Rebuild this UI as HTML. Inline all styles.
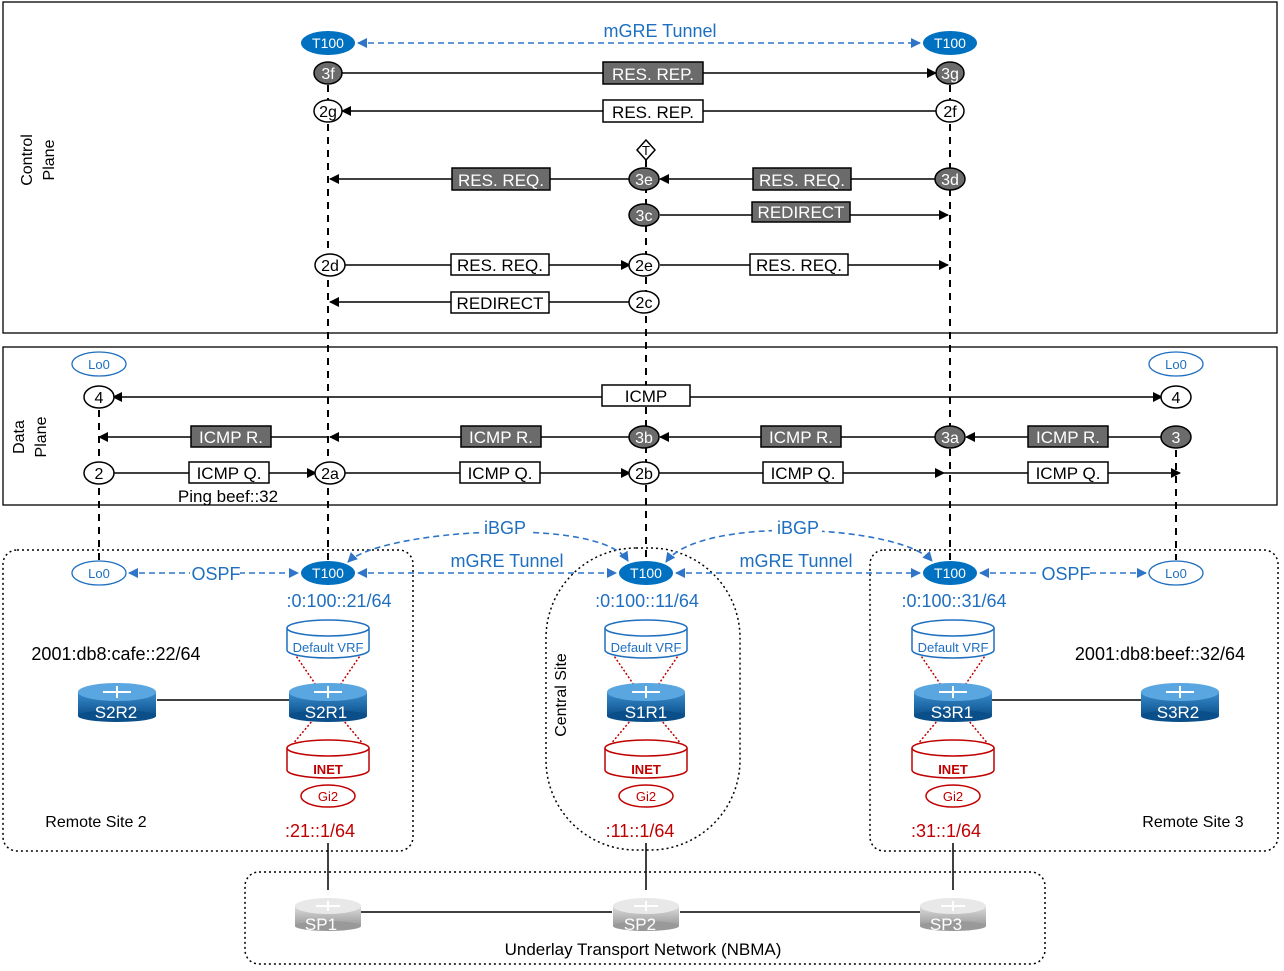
<!DOCTYPE html>
<html><head><meta charset="utf-8"><style>body{margin:0;background:#fff}svg{display:block;font-family:"Liberation Sans",sans-serif}</style></head><body>
<svg width="1284" height="971" viewBox="0 0 1284 971" xmlns="http://www.w3.org/2000/svg">
<defs>
<marker id="ab" markerWidth="10" markerHeight="10" refX="9" refY="5" orient="auto-start-reverse" markerUnits="userSpaceOnUse"><path d="M0,0 L10,5 L0,10z" fill="#000"/></marker>
<marker id="bb" markerWidth="10" markerHeight="10" refX="9" refY="5" orient="auto-start-reverse" markerUnits="userSpaceOnUse"><path d="M0,0 L10,5 L0,10z" fill="#2e75c8"/></marker>
<linearGradient id="rg" x1="0" y1="0" x2="0" y2="1"><stop offset="0" stop-color="#3b8ed0"/><stop offset="1" stop-color="#0b4f8a"/></linearGradient>
<linearGradient id="gg" x1="0" y1="0" x2="0" y2="1"><stop offset="0" stop-color="#dcdcdc"/><stop offset="1" stop-color="#9a9a9a"/></linearGradient>
<g id="rt"><rect x="-39" y="-8" width="78" height="24" fill="url(#rg)"/><ellipse cx="0" cy="16" rx="39" ry="6" fill="#0b4f8a"/><ellipse cx="0" cy="-8" rx="39" ry="9" fill="#5aa6e0"/><path d="M-14,-8h28M0,-14v12" stroke="#fff" stroke-width="2"/></g>
<g id="sp"><rect x="-33" y="-6" width="66" height="20" fill="url(#gg)"/><ellipse cx="0" cy="14" rx="33" ry="5" fill="#999"/><ellipse cx="0" cy="-6" rx="33" ry="8" fill="#e8e8e8"/><path d="M-12,-6h24M0,-11v10" stroke="#fff" stroke-width="2"/></g>
</defs>
<g fill="none" stroke="#000" stroke-width="1.3">
<rect x="3" y="2" width="1274" height="331"/>
<rect x="3" y="347" width="1274" height="158"/>
</g>
<g stroke="#000" stroke-width="2" stroke-dasharray="7,6" fill="none">
<path d="M328,85V560M646,160V560M950,85V560M99,410V560M1176,450V560"/>
</g>
<g stroke="#000" stroke-width="1.5" fill="none" stroke-dasharray="2,3">
<rect x="3" y="550" width="410" height="301" rx="14"/>
<rect x="546" y="548" width="194" height="302" rx="90"/>
<rect x="870" y="550" width="408" height="301" rx="14"/>
<rect x="245" y="872" width="800" height="92" rx="14"/>
</g>
<g stroke="#000" stroke-width="1.5" fill="none">
<path d="M342,73H936" marker-end="url(#ab)"/>
<path d="M936,111H342" marker-end="url(#ab)"/>
<path d="M630,179H330" marker-end="url(#ab)"/>
<path d="M936,179H660" marker-end="url(#ab)"/>
<path d="M660,215H948" marker-end="url(#ab)"/>
<path d="M344,265H630" marker-end="url(#ab)"/>
<path d="M660,265H948" marker-end="url(#ab)"/>
<path d="M630,302H330" marker-end="url(#ab)"/>
<path d="M113,397H1162" marker-start="url(#ab)" marker-end="url(#ab)"/>
<path d="M1162,437H966" marker-end="url(#ab)"/>
<path d="M936,437H660" marker-end="url(#ab)"/>
<path d="M630,437H330" marker-end="url(#ab)"/>
<path d="M328,437H99" marker-end="url(#ab)"/>
<path d="M113,473H316" marker-end="url(#ab)"/>
<path d="M344,473H630" marker-end="url(#ab)"/>
<path d="M658,473H944" marker-end="url(#ab)"/>
<path d="M944,473H1180" marker-end="url(#ab)"/>
<path d="M157,700H290M990,700H1142M328,843V890M646,843V890M953,843V890M360,912H612M680,912H920"/>
</g>
<path d="M646,140l9,10l-9,10l-9,-10z" fill="#fff" stroke="#000" stroke-width="1.5"/>
<text x="646" y="155" font-size="13" text-anchor="middle">T</text>
<g font-size="17" text-anchor="middle">
<g stroke="#000" stroke-width="1.5">
<rect x="603" y="62" width="100" height="22" fill="#6b6b6b"/>
<rect x="603" y="100" width="100" height="22" fill="#fff"/>
<rect x="452" y="168" width="98" height="22" fill="#6b6b6b"/>
<rect x="753" y="168" width="98" height="22" fill="#6b6b6b"/>
<rect x="752" y="202" width="98" height="20" fill="#6b6b6b"/>
<rect x="451" y="254" width="98" height="21" fill="#fff"/>
<rect x="750" y="254" width="98" height="21" fill="#fff"/>
<rect x="451" y="292" width="98" height="21" fill="#fff"/>
<rect x="602" y="385" width="88" height="21" fill="#fff"/>
<rect x="1028" y="426" width="80" height="21" fill="#6b6b6b"/>
<rect x="761" y="426" width="80" height="21" fill="#6b6b6b"/>
<rect x="461" y="426" width="80" height="21" fill="#6b6b6b"/>
<rect x="191" y="426" width="80" height="21" fill="#6b6b6b"/>
<rect x="189" y="462" width="80" height="21" fill="#fff"/>
<rect x="460" y="462" width="80" height="21" fill="#fff"/>
<rect x="763" y="462" width="80" height="21" fill="#fff"/>
<rect x="1028" y="462" width="80" height="21" fill="#fff"/>
</g>
<text x="653" y="80" fill="#fff">RES. REP.</text>
<text x="653" y="118">RES. REP.</text>
<text x="501" y="186" fill="#fff">RES. REQ.</text>
<text x="802" y="186" fill="#fff">RES. REQ.</text>
<text x="801" y="218" fill="#fff">REDIRECT</text>
<text x="500" y="271">RES. REQ.</text>
<text x="799" y="271">RES. REQ.</text>
<text x="500" y="309">REDIRECT</text>
<text x="646" y="402">ICMP</text>
<text x="1068" y="443" fill="#fff">ICMP R.</text>
<text x="801" y="443" fill="#fff">ICMP R.</text>
<text x="501" y="443" fill="#fff">ICMP R.</text>
<text x="231" y="443" fill="#fff">ICMP R.</text>
<text x="229" y="479">ICMP Q.</text>
<text x="500" y="479">ICMP Q.</text>
<text x="803" y="479">ICMP Q.</text>
<text x="1068" y="479">ICMP Q.</text>
<text x="228" y="502">Ping beef::32</text>
<text x="643" y="955">Underlay Transport Network (NBMA)</text>
</g>
<g font-size="16" text-anchor="middle">
<text transform="translate(32,160) rotate(-90)">Control</text>
<text transform="translate(54,160) rotate(-90)">Plane</text>
<text transform="translate(24,437) rotate(-90)">Data</text>
<text transform="translate(46,437) rotate(-90)">Plane</text>
<text transform="translate(566,695) rotate(-90)">Central Site</text>
<text x="96" y="827">Remote Site 2</text>
<text x="1193" y="827">Remote Site 3</text>
<text x="116" y="660" font-size="18">2001:db8:cafe::22/64</text>
<text x="1160" y="660" font-size="18">2001:db8:beef::32/64</text>
</g>
<g font-size="16" text-anchor="middle" stroke-width="1.5">
<g stroke="#000">
<ellipse cx="328" cy="73" rx="14" ry="11" fill="#6b6b6b"/><ellipse cx="950" cy="73" rx="14" ry="11" fill="#6b6b6b"/>
<ellipse cx="328" cy="111" rx="14" ry="11" fill="#fff"/><ellipse cx="950" cy="111" rx="14" ry="11" fill="#fff"/>
<ellipse cx="644" cy="179" rx="15" ry="11" fill="#6b6b6b"/><ellipse cx="950" cy="179" rx="15" ry="11" fill="#6b6b6b"/>
<ellipse cx="644" cy="215" rx="15" ry="11" fill="#6b6b6b"/>
<ellipse cx="330" cy="265" rx="15" ry="11" fill="#fff"/><ellipse cx="644" cy="265" rx="15" ry="11" fill="#fff"/>
<ellipse cx="644" cy="302" rx="15" ry="11" fill="#fff"/>
<ellipse cx="99" cy="397" rx="15" ry="11" fill="#fff"/><ellipse cx="1176" cy="397" rx="15" ry="11" fill="#fff"/>
<ellipse cx="1176" cy="437" rx="15" ry="11" fill="#6b6b6b"/><ellipse cx="950" cy="437" rx="15" ry="11" fill="#6b6b6b"/><ellipse cx="644" cy="437" rx="15" ry="11" fill="#6b6b6b"/>
<ellipse cx="99" cy="473" rx="15" ry="11" fill="#fff"/><ellipse cx="330" cy="473" rx="15" ry="11" fill="#fff"/><ellipse cx="644" cy="473" rx="15" ry="11" fill="#fff"/>
</g>
<text x="328" y="79" fill="#fff">3f</text><text x="950" y="79" fill="#fff">3g</text>
<text x="328" y="117">2g</text><text x="950" y="117">2f</text>
<text x="644" y="185" fill="#fff">3e</text><text x="950" y="185" fill="#fff">3d</text>
<text x="644" y="221" fill="#fff">3c</text>
<text x="330" y="271">2d</text><text x="644" y="271">2e</text><text x="644" y="308">2c</text>
<text x="99" y="403">4</text><text x="1176" y="403">4</text>
<text x="1176" y="443" fill="#fff">3</text><text x="950" y="443" fill="#fff">3a</text><text x="644" y="443" fill="#fff">3b</text>
<text x="99" y="479">2</text><text x="330" y="479">2a</text><text x="644" y="479">2b</text>
</g>
<g stroke="#2e75c8" stroke-width="1.6" stroke-dasharray="6,4" fill="none">
<path d="M358,43H920" marker-start="url(#bb)" marker-end="url(#bb)"/>
<path d="M129,573H298" marker-start="url(#bb)" marker-end="url(#bb)"/>
<path d="M358,573H616" marker-start="url(#bb)" marker-end="url(#bb)"/>
<path d="M676,573H920" marker-start="url(#bb)" marker-end="url(#bb)"/>
<path d="M980,573H1146" marker-start="url(#bb)" marker-end="url(#bb)"/>
<path d="M348,562C380,530,600,515,628,561" marker-start="url(#bb)" marker-end="url(#bb)"/>
<path d="M666,562C700,515,900,525,932,561" marker-start="url(#bb)" marker-end="url(#bb)"/>
</g>
<g font-size="18" fill="#1f6fc0" text-anchor="middle">
<rect x="596" y="20" width="128" height="20" fill="#fff"/>
<text x="660" y="37">mGRE Tunnel</text>
<rect x="190" y="563" width="50" height="20" fill="#fff"/><text x="216" y="580">OSPF</text>
<rect x="1040" y="563" width="50" height="20" fill="#fff"/><text x="1066" y="580">OSPF</text>
<rect x="445" y="550" width="124" height="20" fill="#fff"/><text x="507" y="567">mGRE Tunnel</text>
<rect x="734" y="550" width="124" height="20" fill="#fff"/><text x="796" y="567">mGRE Tunnel</text>
<rect x="480" y="517" width="50" height="20" fill="#fff"/><text x="505" y="534">iBGP</text>
<rect x="772" y="517" width="50" height="20" fill="#fff"/><text x="798" y="534">iBGP</text>
<text x="339" y="607">:0:100::21/64</text><text x="647" y="607">:0:100::11/64</text><text x="954" y="607">:0:100::31/64</text>
</g>
<g font-size="14" text-anchor="middle">
<ellipse cx="328" cy="43" rx="27" ry="12" fill="#0070c0"/><ellipse cx="950" cy="43" rx="27" ry="12" fill="#0070c0"/>
<ellipse cx="328" cy="573" rx="27" ry="12" fill="#0070c0"/><ellipse cx="646" cy="573" rx="27" ry="12" fill="#0070c0"/><ellipse cx="950" cy="573" rx="27" ry="12" fill="#0070c0"/>
<g fill="#fff"><text x="328" y="48">T100</text><text x="950" y="48">T100</text><text x="328" y="578">T100</text><text x="646" y="578">T100</text><text x="950" y="578">T100</text></g>
<g fill="#fff" stroke="#1f6fc0" stroke-width="1.3"><ellipse cx="99" cy="364" rx="27" ry="12"/><ellipse cx="1176" cy="364" rx="27" ry="12"/><ellipse cx="99" cy="573" rx="27" ry="12"/><ellipse cx="1176" cy="573" rx="27" ry="12"/></g>
<g fill="#1f6fc0" font-size="13"><text x="99" y="369">Lo0</text><text x="1176" y="369">Lo0</text><text x="99" y="578">Lo0</text><text x="1176" y="578">Lo0</text></g>
</g>
<g id="stk">
<g stroke="#c00000" stroke-width="1.5" stroke-dasharray="2,2" fill="none"><path d="M292,650L318,688M364,650L338,688M292,745L318,714M364,745L338,714"/></g>
<path d="M287,628v22a41,8 0 0 0 82,0v-22" fill="#fff" stroke="#1f6fc0" stroke-width="1.5"/><ellipse cx="328" cy="628" rx="41" ry="8" fill="#fff" stroke="#1f6fc0" stroke-width="1.5"/>
<text x="328" y="652" font-size="13" fill="#1f6fc0" text-anchor="middle">Default VRF</text>
<path d="M287,748v22a41,8 0 0 0 82,0v-22" fill="#fff" stroke="#c00000" stroke-width="1.5"/><ellipse cx="328" cy="748" rx="41" ry="8" fill="#fff" stroke="#c00000" stroke-width="1.5"/>
<text x="328" y="774" font-size="13" font-weight="bold" fill="#c00000" text-anchor="middle">INET</text>
<ellipse cx="328" cy="796" rx="27" ry="11" fill="#fff" stroke="#c00000" stroke-width="1.5"/>
<text x="328" y="801" font-size="13" fill="#c00000" text-anchor="middle">Gi2</text>
</g>
<use href="#stk" x="318"/><use href="#stk" x="625"/>
<g font-size="18" fill="#c00000" text-anchor="middle"><text x="320" y="837">:21::1/64</text><text x="640" y="837">:11::1/64</text><text x="946" y="837">:31::1/64</text></g>
<use href="#rt" x="328" y="700"/><use href="#rt" x="646" y="700"/><use href="#rt" x="953" y="700"/><use href="#rt" x="117" y="700"/><use href="#rt" x="1180" y="700"/>
<g font-size="17" fill="#fff" text-anchor="middle"><text x="326" y="718">S2R1</text><text x="646" y="718">S1R1</text><text x="952" y="718">S3R1</text><text x="116" y="718">S2R2</text><text x="1178" y="718">S3R2</text></g>
<use href="#sp" x="328" y="912"/><use href="#sp" x="646" y="912"/><use href="#sp" x="953" y="912"/>
<g font-size="17" fill="#fff" text-anchor="middle"><text x="321" y="930">SP1</text><text x="640" y="930">SP2</text><text x="946" y="930">SP3</text></g>
</svg>
</body></html>
